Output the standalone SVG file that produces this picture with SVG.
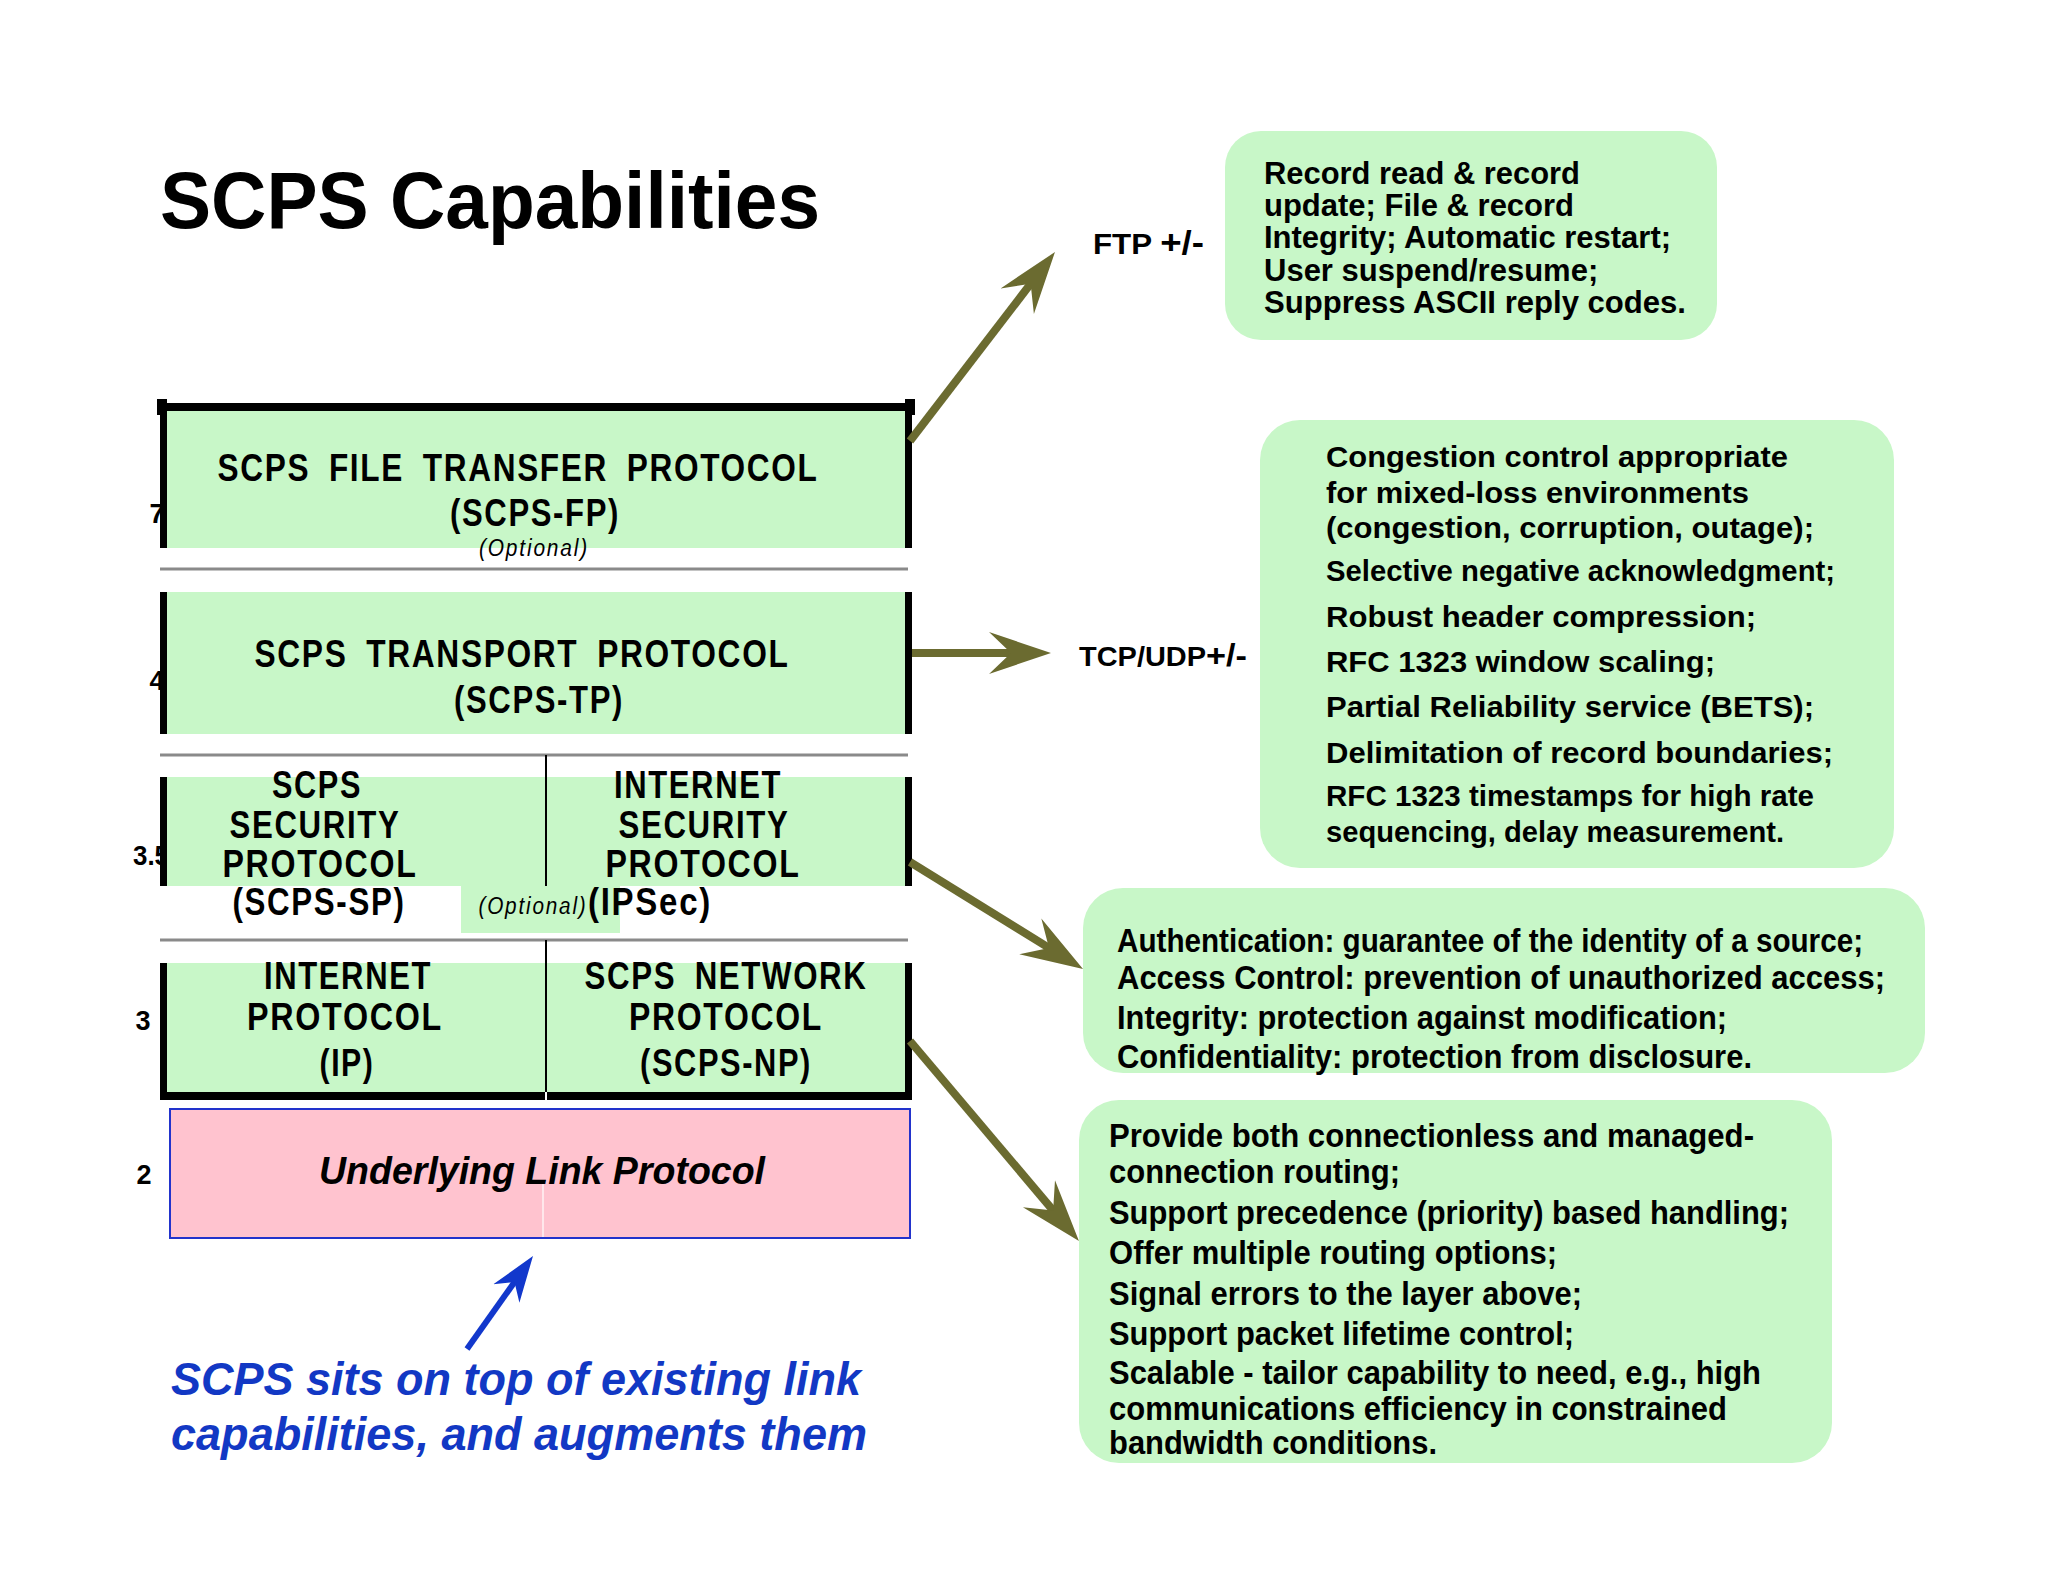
<svg xmlns="http://www.w3.org/2000/svg" width="2048" height="1582" viewBox="0 0 2048 1582">
<style>
.stk{font-family:"Liberation Sans",Arial,sans-serif;font-weight:bold;font-size:38px;letter-spacing:2px;word-spacing:10px;fill:#000;text-anchor:middle}
.opt{font-family:"Liberation Sans",Arial,sans-serif;font-weight:normal;font-style:italic;font-size:23px;letter-spacing:2px;fill:#000;text-anchor:middle}
.num{font-family:"Liberation Sans",Arial,sans-serif;font-weight:bold;font-size:27px;fill:#000;text-anchor:middle}
.grn{fill:#C8F7C8}
.blk{fill:#000}
.sep{stroke:#8a8a8a;stroke-width:3}
.div{stroke:#000;stroke-width:2}
.rbox{fill:#C8F7C8}
.rt{font-family:"Liberation Sans",Arial,sans-serif;font-weight:bold;fill:#000}
.lbl{font-family:"Liberation Sans",Arial,sans-serif;font-weight:bold;fill:#000}
.arr{stroke:#6B6B30;stroke-width:8;fill:none;marker-end:url(#olive)}
.barr{stroke:#1238CC;stroke-width:6;fill:none;marker-end:url(#blue)}
.blue{font-family:"Liberation Sans",Arial,sans-serif;font-weight:bold;font-style:italic;font-size:46px;fill:#1238C4}
</style>
<defs>
<marker id="olive" viewBox="0 0 62 48" refX="30" refY="24" markerWidth="62" markerHeight="48" markerUnits="userSpaceOnUse" orient="auto">
<path d="M0,3 L62,24 L0,45 L22,24 Z" fill="#6B6B30"/>
</marker>
<marker id="blue" viewBox="0 0 46 34" refX="22" refY="17" markerWidth="46" markerHeight="34" markerUnits="userSpaceOnUse" orient="auto">
<path d="M0,1 L46,17 L0,33 L14,17 Z" fill="#1238CC"/>
</marker>
</defs>
<rect width="2048" height="1582" fill="#fff"/>

<text x="160" y="228" font-family="Liberation Sans, Arial, sans-serif" font-weight="bold" font-size="79" textLength="660" lengthAdjust="spacingAndGlyphs">SCPS Capabilities</text>

<g id="layer-numbers">
<text class="num" x="157" y="523">7</text>
<text class="num" x="157" y="690">4</text>
<text class="num" x="151" y="865" textLength="36" lengthAdjust="spacingAndGlyphs">3.5</text>
<text class="num" x="143" y="1030">3</text>
<text class="num" x="144" y="1184">2</text>
</g>

<g id="scps-fp">
<rect class="grn" x="166" y="410" width="739" height="138"/>
<rect class="blk" x="160" y="403" width="752" height="8"/>
<rect class="blk" x="157" y="399" width="10" height="16"/>
<rect class="blk" x="905" y="399" width="10" height="16"/>
<rect class="blk" x="160" y="406" width="7" height="142"/>
<rect class="blk" x="905" y="406" width="7" height="142"/>
<text class="stk" x="518" y="481" textLength="601" lengthAdjust="spacingAndGlyphs">SCPS FILE TRANSFER PROTOCOL</text>
<text class="stk" x="535" y="526" textLength="170" lengthAdjust="spacingAndGlyphs">(SCPS-FP)</text>
<text class="opt" x="534" y="556" textLength="110" lengthAdjust="spacingAndGlyphs">(Optional)</text>
</g>
<line class="sep" x1="160" y1="569" x2="908" y2="569"/>

<g id="scps-tp">
<rect class="grn" x="166" y="592" width="739" height="142"/>
<rect class="blk" x="160" y="592" width="7" height="142"/>
<rect class="blk" x="905" y="592" width="7" height="142"/>
<text class="stk" x="522" y="667" textLength="535" lengthAdjust="spacingAndGlyphs">SCPS TRANSPORT PROTOCOL</text>
<text class="stk" x="539" y="713" textLength="170" lengthAdjust="spacingAndGlyphs">(SCPS-TP)</text>
</g>
<line class="sep" x1="160" y1="755" x2="908" y2="755"/>

<g id="security-layer">
<rect class="grn" x="166" y="777" width="739" height="109"/>
<rect class="grn" x="461" y="886" width="159" height="47"/>
<rect class="blk" x="160" y="777" width="7" height="109"/>
<rect class="blk" x="905" y="777" width="7" height="109"/>
<line class="div" x1="546" y1="755" x2="546" y2="886"/>
<g id="scps-sp">
<text class="stk" x="317" y="798" textLength="90" lengthAdjust="spacingAndGlyphs">SCPS</text>
<text class="stk" x="315" y="838" textLength="171" lengthAdjust="spacingAndGlyphs">SECURITY</text>
<text class="stk" x="320" y="877" textLength="195" lengthAdjust="spacingAndGlyphs">PROTOCOL</text>
<text class="stk" x="319" y="915" textLength="173" lengthAdjust="spacingAndGlyphs">(SCPS-SP)</text>
</g>
<g id="ipsec">
<text class="stk" x="698" y="798" textLength="168" lengthAdjust="spacingAndGlyphs">INTERNET</text>
<text class="stk" x="704" y="838" textLength="171" lengthAdjust="spacingAndGlyphs">SECURITY</text>
<text class="stk" x="703" y="877" textLength="195" lengthAdjust="spacingAndGlyphs">PROTOCOL</text>
<text class="opt" x="533" y="914" textLength="109" lengthAdjust="spacingAndGlyphs">(Optional)</text>
<text class="stk" x="650" y="915" textLength="124" lengthAdjust="spacingAndGlyphs">(IPSec)</text>
</g>
</g>
<line class="sep" x1="160" y1="940" x2="908" y2="940"/>

<g id="network-layer">
<rect class="grn" x="166" y="963" width="739" height="129"/>
<rect class="blk" x="160" y="963" width="7" height="137"/>
<rect class="blk" x="905" y="963" width="7" height="137"/>
<rect class="blk" x="160" y="1092" width="385" height="8"/>
<rect class="blk" x="547" y="1092" width="365" height="8"/>
<line class="div" x1="546" y1="940" x2="546" y2="1092"/>
<g id="ip">
<text class="stk" x="348" y="989" textLength="168" lengthAdjust="spacingAndGlyphs">INTERNET</text>
<text class="stk" x="345" y="1030" textLength="196" lengthAdjust="spacingAndGlyphs">PROTOCOL</text>
<text class="stk" x="347" y="1076" textLength="55" lengthAdjust="spacingAndGlyphs">(IP)</text>
</g>
<g id="scps-np">
<text class="stk" x="726" y="989" textLength="283" lengthAdjust="spacingAndGlyphs">SCPS NETWORK</text>
<text class="stk" x="726" y="1030" textLength="194" lengthAdjust="spacingAndGlyphs">PROTOCOL</text>
<text class="stk" x="726" y="1076" textLength="172" lengthAdjust="spacingAndGlyphs">(SCPS-NP)</text>
</g>
</g>

<g id="link-layer">
<rect x="170" y="1109" width="740" height="129" fill="#FFC3CF" stroke="#2233CC" stroke-width="2"/>
<line x1="543" y1="1182" x2="543" y2="1237" stroke="#fff" stroke-width="1.5" opacity="0.8"/>
<text x="542" y="1184" font-family="Liberation Sans, Arial, sans-serif" font-weight="bold" font-style="italic" font-size="38" text-anchor="middle" textLength="446" lengthAdjust="spacingAndGlyphs">Underlying Link Protocol</text>
</g>

<g id="connectors">
<path class="arr" d="M910,441 L1035.5,277.4"/>
<path class="arr" d="M912,653 L1019,653"/>
<path class="arr" d="M910,862 L1055.8,952.2"/>
<path class="arr" d="M910,1041 L1058.3,1216.6"/>
<path class="barr" d="M467,1349 L519.1,1275.6"/>
</g>

<g id="ftp-label">
<text class="lbl" x="1093" y="254" textLength="111" lengthAdjust="spacingAndGlyphs"><tspan font-size="29">FTP </tspan><tspan font-size="34">+/-</tspan></text>
</g>
<g id="tcp-label">
<text class="lbl" x="1079" y="666" textLength="168" lengthAdjust="spacingAndGlyphs"><tspan font-size="27">TCP/UDP</tspan><tspan font-size="32">+/-</tspan></text>
</g>

<g id="ftp-box">
<rect class="rbox" x="1225" y="131" width="492" height="209" rx="36"/>
<g class="rt" font-size="31">
<text x="1264" y="184" textLength="316" lengthAdjust="spacingAndGlyphs">Record read &amp; record</text>
<text x="1264" y="216">update; File &amp; record</text>
<text x="1264" y="248">Integrity;  Automatic restart;</text>
<text x="1264" y="281">User suspend/resume;</text>
<text x="1264" y="313" textLength="422" lengthAdjust="spacingAndGlyphs">Suppress ASCII reply codes.</text>
</g>
</g>

<g id="tcp-box">
<rect class="rbox" x="1260" y="420" width="634" height="448" rx="40"/>
<g class="rt" font-size="30">
<text x="1326" y="467" textLength="462" lengthAdjust="spacingAndGlyphs">Congestion control appropriate</text>
<text x="1326" y="503" textLength="423" lengthAdjust="spacingAndGlyphs">for mixed-loss environments</text>
<text x="1326" y="538" textLength="488" lengthAdjust="spacingAndGlyphs">(congestion, corruption, outage);</text>
<text x="1326" y="581" textLength="509" lengthAdjust="spacingAndGlyphs">Selective negative acknowledgment;</text>
<text x="1326" y="627" textLength="430" lengthAdjust="spacingAndGlyphs">Robust header compression;</text>
<text x="1326" y="672" textLength="389" lengthAdjust="spacingAndGlyphs">RFC 1323 window scaling;</text>
<text x="1326" y="717" textLength="488" lengthAdjust="spacingAndGlyphs">Partial Reliability service (BETS);</text>
<text x="1326" y="763" textLength="507" lengthAdjust="spacingAndGlyphs">Delimitation of record boundaries;</text>
<text x="1326" y="806" textLength="488" lengthAdjust="spacingAndGlyphs">RFC 1323 timestamps  for high rate</text>
<text x="1326" y="842" textLength="458" lengthAdjust="spacingAndGlyphs">sequencing,  delay measurement.</text>
</g>
</g>

<g id="security-box">
<rect class="rbox" x="1083" y="888" width="842" height="185" rx="40"/>
<g class="rt" font-size="33">
<text x="1117" y="952" textLength="746" lengthAdjust="spacingAndGlyphs">Authentication:  guarantee of the identity of a source;</text>
<text x="1117" y="989" textLength="768" lengthAdjust="spacingAndGlyphs">Access Control: prevention of unauthorized access;</text>
<text x="1117" y="1029" textLength="610" lengthAdjust="spacingAndGlyphs">Integrity: protection against modification;</text>
<text x="1117" y="1068" textLength="635" lengthAdjust="spacingAndGlyphs">Confidentiality: protection from disclosure.</text>
</g>
</g>

<g id="network-box">
<rect class="rbox" x="1079" y="1100" width="753" height="363" rx="40"/>
<g class="rt" font-size="34">
<text x="1109" y="1147" textLength="645" lengthAdjust="spacingAndGlyphs">Provide both connectionless and managed-</text>
<text x="1109" y="1183" textLength="291" lengthAdjust="spacingAndGlyphs">connection routing;</text>
<text x="1109" y="1224" textLength="680" lengthAdjust="spacingAndGlyphs">Support precedence (priority)  based handling;</text>
<text x="1109" y="1264" textLength="448" lengthAdjust="spacingAndGlyphs">Offer multiple routing options;</text>
<text x="1109" y="1305" textLength="473" lengthAdjust="spacingAndGlyphs">Signal errors to the layer above;</text>
<text x="1109" y="1345" textLength="465" lengthAdjust="spacingAndGlyphs">Support packet lifetime control;</text>
<text x="1109" y="1384" textLength="652" lengthAdjust="spacingAndGlyphs">Scalable - tailor capability to need, e.g., high</text>
<text x="1109" y="1420" textLength="618" lengthAdjust="spacingAndGlyphs">communications efficiency in constrained</text>
<text x="1109" y="1454" textLength="328" lengthAdjust="spacingAndGlyphs">bandwidth conditions.</text>
</g>
</g>

<g id="caption">
<text class="blue" x="171" y="1395" textLength="690" lengthAdjust="spacingAndGlyphs">SCPS sits on top of existing link</text>
<text class="blue" x="171" y="1450" textLength="696" lengthAdjust="spacingAndGlyphs">capabilities,  and augments  them</text>
</g>
</svg>
